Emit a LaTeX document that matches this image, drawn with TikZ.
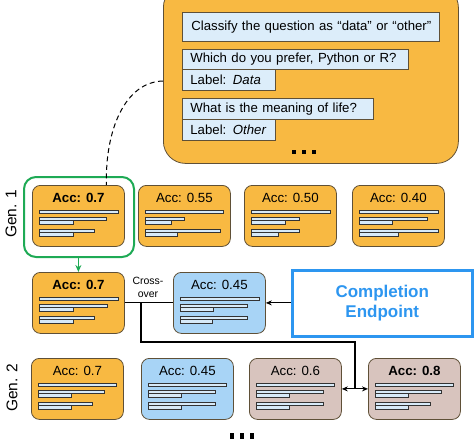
\documentclass[tikz,border=0pt]{standalone}
\usepackage{fontspec}
\setmainfont{Liberation Sans}
\usetikzlibrary{arrows.meta,calc}
\definecolor{orng}{RGB}{248,185,66}
\definecolor{lblue}{RGB}{168,212,246}
\definecolor{brwn}{RGB}{216,196,190}
\definecolor{tfill}{RGB}{220,237,250}
\definecolor{bfill}{RGB}{215,234,248}
\definecolor{bord}{RGB}{95,80,55}
\definecolor{grn}{RGB}{30,170,85}
\definecolor{epblue}{RGB}{45,150,240}
\tikzset{
  indiv/.style={draw=bord, line width=0.8pt, rounded corners=8pt, minimum width=92pt, minimum height=61pt, anchor=north west, inner sep=0pt},
  tbox/.style={draw=bord, line width=0.8pt, fill=tfill, anchor=north west, inner xsep=8pt, inner ysep=0pt, align=left, font=\fontsize{13.2}{15}\selectfont},
  acc/.style={font=\fontsize{13.3}{15}\selectfont, inner sep=0pt},
  bar/.style={draw=black!80, line width=0.6pt, fill=bfill},
  conn/.style={draw=black, line width=1.1pt},
}
\newcommand{\genome}[6]{%
  \draw[bar] ($(#1.north west)+(7,25)$) rectangle ++(#2,3.5);
  \draw[bar] ($(#1.north west)+(7,32)$) rectangle ++(#3,3.5);
  \draw[bar] ($(#1.north west)+(7,35.5)$) rectangle ++(#4,3.5);
  \draw[bar] ($(#1.north west)+(7,44)$) rectangle ++(#5,3.5);
  \draw[bar] ($(#1.north west)+(7,47.5)$) rectangle ++(#6,3.5);
}
\begin{document}
\begin{tikzpicture}[x=1pt,y=-1pt]
\useasboundingbox (0,0) rectangle (474,439);
\begin{scope}
\clip (0,0) rectangle (474,439);
% prompt container
\node[draw=bord, line width=0.8pt, fill=orng, rounded corners=22pt, minimum width=295pt, minimum height=178pt, anchor=north west, inner sep=0pt] (prompt) at (163,-15) {};
\node[tbox, text width=239pt, minimum height=29pt, inner xsep=9pt] (t1) at (182,12) {\mbox{Classify the question as “data” or “other”}};
\node[tbox, text width=210pt, minimum height=20pt] (t2) at (182,49) {\mbox{Which do you prefer, Python or R?}};
\node[tbox, text width=77pt, minimum height=21pt] (t3) at (182,69) {\mbox{Label: \textit{Data}}};
\node[tbox, text width=175pt, minimum height=21pt] (t4) at (182,98) {\mbox{What is the meaning of life?}};
\node[tbox, text width=77pt, minimum height=21pt] (t5) at (182,119) {\mbox{Label: \textit{Other}}};
\foreach \xx in {294,304,314} \fill (\xx-2.2,150) rectangle ++(4.4,4.4);

% Gen 1
\node[indiv, fill=orng] (g1a) at (32,185) {};
\node[indiv, fill=orng] (g1b) at (138,185) {};
\node[indiv, fill=orng] (g1c) at (244,185) {};
\node[indiv, fill=orng] (g1d) at (352,185) {};
\node[acc, font=\fontsize{13.3}{15}\selectfont\bfseries] at ($(g1a.north)+(0,13)$) {Acc: 0.7};
\node[acc] at ($(g1b.north)+(0,13)$) {Acc: 0.55};
\node[acc] at ($(g1c.north)+(0,13)$) {Acc: 0.50};
\node[acc] at ($(g1d.north)+(0,13)$) {Acc: 0.40};
\genome{g1a}{79}{67}{34}{55}{34}
\genome{g1b}{78}{39}{26}{75}{32}
\genome{g1c}{79}{48}{34}{48}{27}
\genome{g1d}{79}{68}{33}{79}{39}
\node[draw=grn, line width=2pt, rounded corners=12pt, minimum width=110pt, minimum height=80pt, anchor=north west, inner sep=0pt] (sel) at (23,176) {};

% dashed link
\coordinate (pl) at (prompt.west |- 0,81);
\coordinate (gt) at ($(g1a.north)+(28,0)$);
\draw[dashed, line width=1pt, dash pattern=on 5pt off 3.5pt] (pl) .. controls (125,82) and (105,130) .. (gt);

% middle row
\node[indiv, fill=orng] (ma) at (32,272) {};
\node[indiv, fill=lblue] (mb) at (173,272) {};
\node[acc, font=\fontsize{13.3}{15}\selectfont\bfseries] at ($(ma.north)+(0,13)$) {Acc: 0.7};
\node[acc] at ($(mb.north)+(0,13)$) {Acc: 0.45};
\genome{ma}{79}{68}{34}{55}{34}
\genome{mb}{79}{67}{33}{67}{32}
\draw[-{Stealth[length=7pt,width=6pt]}, draw=grn, line width=1.6pt] (sel.south -| ma.north) -- (ma.north);
\node[align=center, font=\fontsize{10.5}{13}\selectfont, inner sep=0pt] (cross) at (148,287.5) {Cross-\\over};

% completion endpoint
\node[draw=epblue, line width=2.5pt, fill=white, minimum width=180pt, minimum height=66pt, anchor=north west, inner sep=0pt, align=center, text=epblue, font=\fontsize{17}{20}\selectfont\bfseries] (ep) at (291,269) {Completion\\Endpoint};
\draw[conn, -{Stealth[length=6pt,width=5pt]}] (ep.west |- mb.east) -- (mb.east);

% Gen 2
\node[indiv, fill=orng] (g2a) at (31,358) {};
\node[indiv, fill=lblue] (g2b) at (141,358) {};
\node[indiv, fill=brwn] (g2c) at (249,358) {};
\node[indiv, fill=brwn] (g2d) at (368,358) {};
\node[acc] at ($(g2a.north)+(0,13)$) {Acc: 0.7};
\node[acc] at ($(g2b.north)+(0,13)$) {Acc: 0.45};
\node[acc] at ($(g2c.north)+(0,13)$) {Acc: 0.6};
\node[acc, font=\fontsize{13.3}{15}\selectfont\bfseries] at ($(g2d.north)+(0,13)$) {Acc: 0.8};
\genome{g2a}{78}{66}{33}{54}{33}
\genome{g2b}{78}{67}{33}{67}{33}
\genome{g2c}{78}{67}{33}{67}{33}
\genome{g2d}{78}{66}{33}{55}{33}

% crossover connectors
\draw[conn] (ma.east) -- (mb.west);
\coordinate (cj) at (141,302.5);
\coordinate (mid) at (355,388);
\draw[conn] (cj) -- (141,342) -- (355,342) -- (mid);
\draw[conn, {Stealth[length=6pt,width=5pt]}-{Stealth[length=6pt,width=5pt]}] (g2c.east) -- (g2d.west);

% generation labels
\node[rotate=90, font=\fontsize{15.5}{18}\selectfont, inner sep=0pt] (gen1) at (11,214) {Gen. 1};
\node[rotate=90, font=\fontsize{15.5}{18}\selectfont, inner sep=0pt] (gen2) at (12,388) {Gen. 2};

% bottom dots
\foreach \xx in {232,242,252} \fill (\xx-2.2,433) rectangle ++(4.4,6);
\end{scope}
\end{tikzpicture}
\end{document}
